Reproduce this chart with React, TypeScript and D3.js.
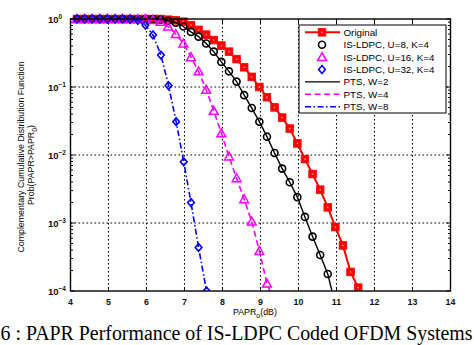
import React from "react";
import * as d3 from "d3";

// ---------- data ----------
const xTicks = [4, 5, 6, 7, 8, 9, 10, 11, 12, 13, 14];
const yTickExps = [0, -1, -2, -3, -4];

const markerX = [4.17, 4.37, 4.57, 4.77, 4.97, 5.17, 5.37, 5.57, 5.77, 5.97, 6.17, 6.37, 6.57, 6.77, 6.97, 7.17, 7.37, 7.57, 7.77, 7.97, 8.17, 8.37, 8.57, 8.77, 8.97, 9.17, 9.37, 9.57, 9.77, 9.97, 10.17, 10.37, 10.57, 10.77, 10.97, 11.17, 11.37, 11.57];

const originalP = [1, 1, 1, 1, 1, 1, 1, 1, 1, 1, 1, 1, 0.977, 0.955, 0.912, 0.813, 0.692, 0.589, 0.49, 0.407, 0.331, 0.257, 0.195, 0.141, 0.1, 0.0708, 0.0501, 0.0355, 0.0245, 0.0148, 0.00871, 0.00525, 0.00309, 0.0017, 0.000871, 0.000468, 0.000191, 0.000112];

const isU8X = [4.17, 4.37, 4.57, 4.77, 4.97, 5.17, 5.37, 5.57, 5.77, 5.97, 6.17, 6.37, 6.57, 6.77, 6.97, 7.17, 7.37, 7.57, 7.77, 7.97, 8.17, 8.37, 8.57, 8.77, 8.97, 9.17, 9.37, 9.57, 9.77, 9.97, 10.17, 10.37, 10.57, 10.77];
const isU8P = [1, 1, 1, 1, 1, 1, 1, 1, 1, 1, 1, 0.977, 0.944, 0.883, 0.776, 0.646, 0.55, 0.437, 0.331, 0.234, 0.17, 0.12, 0.0759, 0.049, 0.0309, 0.0186, 0.0107, 0.00631, 0.00398, 0.0024, 0.00123, 0.000631, 0.000339, 0.000178];

const isU16X = [4.17, 4.37, 4.57, 4.77, 4.97, 5.17, 5.37, 5.57, 5.77, 5.97, 6.17, 6.37, 6.57, 6.77, 6.97, 7.17, 7.37, 7.57, 7.77, 7.97, 8.17, 8.37, 8.57, 8.77, 8.97, 9.17];
const isU16P = [1, 1, 1, 1, 1, 1, 1, 1, 1, 1, 0.966, 0.912, 0.776, 0.603, 0.437, 0.275, 0.17, 0.0912, 0.0447, 0.0209, 0.00955, 0.00457, 0.00224, 0.00105, 0.000389, 0.000129];

const isU32X = [4.17, 4.37, 4.57, 4.77, 4.97, 5.17, 5.37, 5.57, 5.77, 5.97, 6.17, 6.38, 6.58, 6.78, 6.98, 7.17, 7.37, 7.58];
const isU32P = [1, 1, 1, 1, 1, 1, 1, 0.989, 0.955, 0.813, 0.582, 0.295, 0.105, 0.0309, 0.00794, 0.002, 0.000437, 0.0001];

const ptsW2X = [4.0, 6.17, 6.37, 6.57, 6.77, 6.97, 7.17, 7.37, 7.57, 7.77, 7.97, 8.17, 8.37, 8.57, 8.77, 8.97, 9.17, 9.37, 9.57, 9.77, 9.97, 10.17, 10.37, 10.57, 10.77, 10.88];
const ptsW2P = [1, 1, 0.977, 0.944, 0.883, 0.776, 0.646, 0.55, 0.437, 0.331, 0.234, 0.17, 0.12, 0.0759, 0.049, 0.0309, 0.0186, 0.0107, 0.00631, 0.00398, 0.0024, 0.00123, 0.000631, 0.000339, 0.000178, 0.0001];

const ptsW4X = [4.0, 5.97, 6.17, 6.37, 6.57, 6.77, 6.97, 7.17, 7.37, 7.57, 7.77, 7.97, 8.17, 8.37, 8.57, 8.77, 8.97, 9.17, 9.25];
const ptsW4P = [1, 1, 0.966, 0.912, 0.776, 0.603, 0.437, 0.275, 0.17, 0.0912, 0.0447, 0.0209, 0.00955, 0.00457, 0.00224, 0.00105, 0.000389, 0.000129, 0.0001];

const ptsW8X = [4.0, 5.37, 5.57, 5.77, 5.97, 6.17, 6.38, 6.58, 6.78, 6.98, 7.17, 7.37, 7.58];
const ptsW8P = [1, 1, 0.989, 0.955, 0.813, 0.582, 0.295, 0.105, 0.0309, 0.00794, 0.002, 0.000437, 0.0001];

const legendLabels = [
  "Original",
  "IS-LDPC, U=8, K=4",
  "IS-LDPC, U=16, K=4",
  "IS-LDPC, U=32, K=4",
  "PTS, W=2",
  "PTS, W=4",
  "PTS, W=8",
];

const captionText = "6 : PAPR Performance of IS-LDPC Coded OFDM Systems";

// ---------- layout ----------
const W = 474;
const H = 345;
const L = 70.5, R = 450.5, T = 19, B = 291;
const SANS = "Liberation Sans, Arial, Helvetica, sans-serif";
const SERIF = "Liberation Serif, Times New Roman, serif";

const RED = "#ff0000";
const MAG = "#ff00ff";
const BLUE = "#0000ff";

function zip(xs: number[], ps: number[]) {
  return xs.map((x, i) => ({ x, p: ps[i] }));
}

function Square({ cx, cy }: { cx: number; cy: number }) {
  return (
    <g>
      <rect x={cx - 3.8} y={cy - 3.8} width={7.6} height={7.6} fill={RED} stroke={RED} strokeWidth={0.8} />
      <circle cx={cx} cy={cy} r={0.9} fill="#ff9090" />
    </g>
  );
}
function Circ({ cx, cy }: { cx: number; cy: number }) {
  return <circle cx={cx} cy={cy} r={3.5} fill="none" stroke="#000" strokeWidth={1.6} />;
}
function Tri({ cx, cy }: { cx: number; cy: number }) {
  const s = 4.4;
  return (
    <path
      d={`M${cx},${cy - s} L${cx + s},${cy + s * 0.8} L${cx - s},${cy + s * 0.8} Z`}
      fill="none"
      stroke={MAG}
      strokeWidth={1.5}
    />
  );
}
function Dia({ cx, cy }: { cx: number; cy: number }) {
  const s = 3.9;
  return (
    <path
      d={`M${cx},${cy - s} L${cx + s * 0.85},${cy} L${cx},${cy + s} L${cx - s * 0.85},${cy} Z`}
      fill="none"
      stroke={BLUE}
      strokeWidth={1.6}
    />
  );
}

export default function App() {
  const x = d3.scaleLinear().domain([4, 14]).range([L, R]);
  const y = d3.scaleLog().domain([1e-4, 1]).range([B, T]);

  const line = d3
    .line<{ x: number; p: number }>()
    .x((d) => x(d.x))
    .y((d) => y(d.p));

  const original = zip(markerX, originalP);
  const u8 = zip(isU8X, isU8P);
  const u16 = zip(isU16X, isU16P);
  const u32 = zip(isU32X, isU32P);
  const w2 = zip(ptsW2X, ptsW2P);
  const w4 = zip(ptsW4X, ptsW4P);
  const w8 = zip(ptsW8X, ptsW8P);

  const minorTicks: number[] = [];
  for (let e = -4; e < 0; e++) {
    for (let m = 2; m <= 9; m++) minorTicks.push(m * Math.pow(10, e));
  }

  const legX0 = 299, legY0 = 25, legW = 147, legH = 88;
  const rowY = (i: number) => 32.3 + i * 12.4;
  const sx0 = 305, sx1 = 340, smid = 322, tx = 343.5;

  return (
    <svg
      width={W}
      height={H}
      style={{ position: "absolute", left: 0, top: 0, background: "#fff" }}
      fontFamily={SANS}
    >
      <rect x={0} y={0} width={W} height={H} fill="#fff" />

      <defs>
        <clipPath id="plotclip">
          <rect x={L} y={T - 6} width={R - L} height={B - T + 6} />
        </clipPath>
      </defs>

      {/* grid */}
      <g stroke="#000" strokeWidth={1.1} strokeDasharray="1.6,2.4">
        {xTicks.slice(1, -1).map((t) => (
          <line key={"gx" + t} x1={x(t)} x2={x(t)} y1={T} y2={B} />
        ))}
        {yTickExps.slice(1, -1).map((e) => (
          <line key={"gy" + e} x1={L} x2={R} y1={y(Math.pow(10, e))} y2={y(Math.pow(10, e))} />
        ))}
      </g>

      {/* ticks */}
      <g stroke="#000" strokeWidth={1}>
        {xTicks.map((t) => (
          <g key={"tx" + t}>
            <line x1={x(t)} x2={x(t)} y1={B} y2={B - 4} />
            <line x1={x(t)} x2={x(t)} y1={T} y2={T + 4} />
          </g>
        ))}
        {yTickExps.map((e) => (
          <g key={"ty" + e}>
            <line x1={L} x2={L + 4} y1={y(Math.pow(10, e))} y2={y(Math.pow(10, e))} />
            <line x1={R} x2={R - 4} y1={y(Math.pow(10, e))} y2={y(Math.pow(10, e))} />
          </g>
        ))}
        {minorTicks.map((v, i) => (
          <g key={"mt" + i}>
            <line x1={L} x2={L + 2.5} y1={y(v)} y2={y(v)} />
            <line x1={R} x2={R - 2.5} y1={y(v)} y2={y(v)} />
          </g>
        ))}
      </g>

      {/* series */}
      <g clipPath="url(#plotclip)">
        <path d={line(original) || ""} fill="none" stroke={RED} strokeWidth={2} />
        {original.map((d, i) => (
          <Square key={"o" + i} cx={x(d.x)} cy={y(d.p)} />
        ))}
        <path d={line(w2) || ""} fill="none" stroke="#000" strokeWidth={1.4} />
        {u8.map((d, i) => (
          <Circ key={"c" + i} cx={x(d.x)} cy={y(d.p)} />
        ))}
        <path d={line(w4) || ""} fill="none" stroke={MAG} strokeWidth={1.6} strokeDasharray="6,3.5" />
        {u16.map((d, i) => (
          <Tri key={"t" + i} cx={x(d.x)} cy={y(d.p)} />
        ))}
        <path d={line(w8) || ""} fill="none" stroke={BLUE} strokeWidth={1.6} strokeDasharray="6,2.5,1.5,2.5" />
        {u32.map((d, i) => (
          <Dia key={"d" + i} cx={x(d.x)} cy={y(d.p)} />
        ))}
      </g>

      {/* axes box */}
      <rect x={L} y={T} width={R - L} height={B - T} fill="none" stroke="#000" strokeWidth={1.4} />

      {/* x tick labels */}
      {xTicks.map((t) => (
        <text key={"xl" + t} x={x(t)} y={305} fontSize={8.8} fontWeight={600} textAnchor="middle" fill="#111">
          {t}
        </text>
      ))}
      {/* y tick labels */}
      {yTickExps.map((e) => (
        <text key={"yl" + e} x={48} y={y(Math.pow(10, e)) + 3.5} fontSize={9.5} fontWeight={600} fill="#111">
          10
          <tspan dy={-4} fontSize={6.5}>{e === 0 ? "0" : "\u2212" + Math.abs(e)}</tspan>
        </text>
      ))}

      {/* x label */}
      <text x={233} y={315} fontSize={8.8} fill="#000">
        PAPR<tspan dy={3} fontSize={7}>o</tspan>
        <tspan dy={-3}>(dB)</tspan>
      </text>

      {/* y label */}
      <g transform="translate(24,157) rotate(-90)">
        <text x={0} y={0} fontSize={8.8} textAnchor="middle" fill="#000">
          Complementary Cumulative Distribution Function
        </text>
        <text x={-8} y={10} fontSize={8.8} textAnchor="middle" fill="#000">
          Prob(PAPR&gt;PAPR<tspan dy={2.5} fontSize={7}>0</tspan>
          <tspan dy={-2.5}>)</tspan>
        </text>
      </g>

      {/* legend */}
      <rect x={legX0} y={legY0} width={legW} height={legH} fill="#fff" stroke="#000" strokeWidth={1} />
      <g fontSize={9.8} fill="#000">
        {legendLabels.map((lab, i) => (
          <text key={"lg" + i} x={tx} y={rowY(i) + 3.4}>
            {lab}
          </text>
        ))}
      </g>
      <line x1={sx0} x2={sx1} y1={rowY(0)} y2={rowY(0)} stroke={RED} strokeWidth={2} />
      <Square cx={smid} cy={rowY(0)} />
      <Circ cx={smid} cy={rowY(1)} />
      <Tri cx={smid} cy={rowY(2)} />
      <Dia cx={smid} cy={rowY(3)} />
      <line x1={sx0} x2={sx1} y1={rowY(4)} y2={rowY(4)} stroke="#000" strokeWidth={1.4} />
      <line x1={sx0} x2={sx1} y1={rowY(5)} y2={rowY(5)} stroke={MAG} strokeWidth={1.6} strokeDasharray="6,3.5" />
      <line x1={sx0} x2={sx1} y1={rowY(6)} y2={rowY(6)} stroke={BLUE} strokeWidth={1.6} strokeDasharray="6,2.5,1.5,2.5" />

      {/* caption */}
      <text x={0.5} y={340} fontFamily={SERIF} fontSize={20} fill="#000" textLength={472} lengthAdjust="spacingAndGlyphs">
        {captionText}
      </text>
    </svg>
  );
}
